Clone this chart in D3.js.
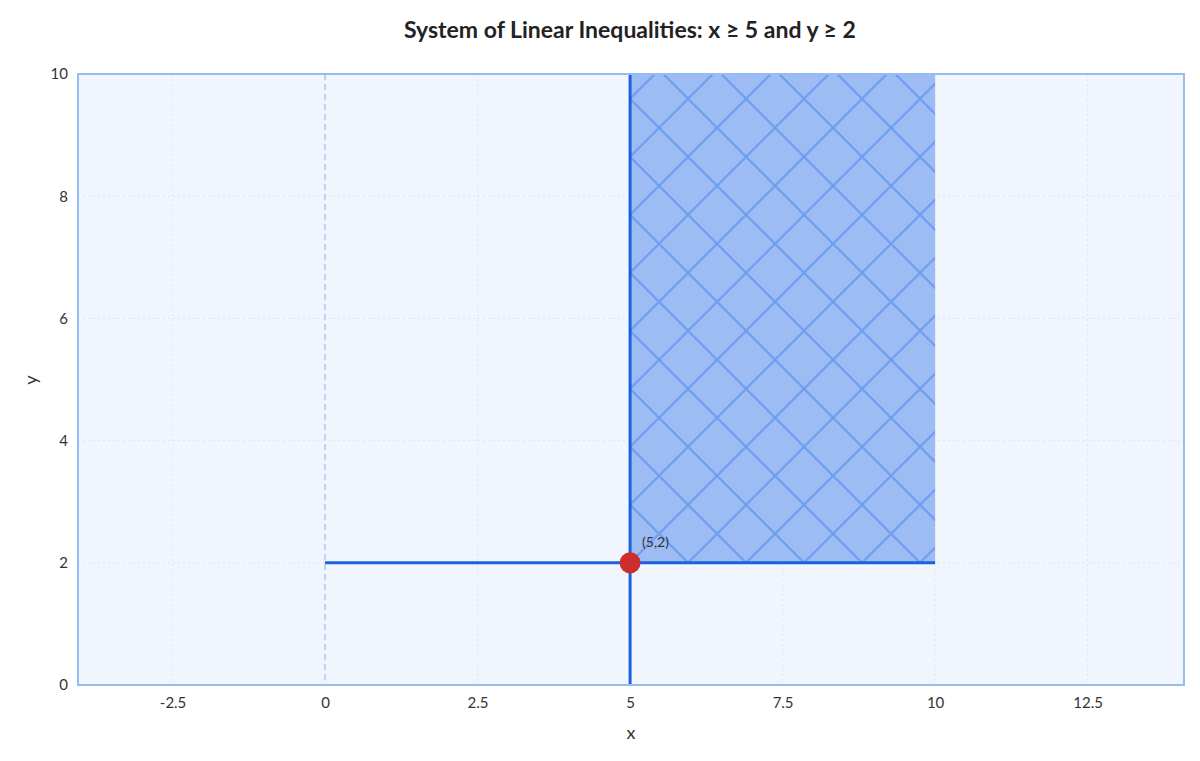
<!DOCTYPE html><html><head><meta charset="utf-8"><script src="https://cdn.jsdelivr.net/npm/d3@7"></script>
<style>body{margin:0;background:#fff;font-family:Lato,"Open Sans",sans-serif}</style></head><body><svg id="c" width="1200" height="761"></svg>
<script>
const xTicks=[-2.5,0,2.5,5,7.5,10,12.5];
const yTicks=[0,2,4,6,8,10];
const xDomain=[-4.05,14.08];
const yDomain=[0,10];
const boundaryX=[{x:5,y:0},{x:5,y:10}];
const boundaryY=[{x:0,y:2},{x:10,y:2}];
const region=[{x:5,y:2},{x:10,y:2},{x:10,y:10},{x:5,y:10}];
const vertex={x:5,y:2,label:"(5,2)"};
const svg=d3.select("#c");
const m={l:78,r:1184,t:74,b:685};
const x=d3.scaleLinear().domain(xDomain).range([m.l,m.r]);
const y=d3.scaleLinear().domain(yDomain).range([m.b,m.t]);
const defs=svg.append("defs");
const p=defs.append("pattern").attr("id","h").attr("patternUnits","userSpaceOnUse").attr("width",58).attr("height",58).attr("x",x(5)).attr("y",y(2));
p.append("rect").attr("width",58).attr("height",58).attr("fill","#9dbcf4");
p.append("path").attr("d","M0,0L58,58M58,0L0,58M-29,29L29,-29M29,87L87,29M-29,29L29,87M29,-29L87,29").attr("stroke","#6a9cf0").attr("stroke-width",2);
svg.append("rect").attr("x",m.l).attr("y",m.t).attr("width",m.r-m.l).attr("height",m.b-m.t).attr("fill","#f1f6fe");
const g=svg.append("g");
xTicks.forEach(t=>g.append("line").attr("x1",x(t)).attr("x2",x(t)).attr("y1",m.t).attr("y2",m.b).attr("stroke","#dde5f0").attr("stroke-dasharray","2,3"));
yTicks.forEach(t=>g.append("line").attr("x1",m.l).attr("x2",m.r).attr("y1",y(t)).attr("y2",y(t)).attr("stroke","#dde5f0").attr("stroke-dasharray","2,3"));
g.append("line").attr("x1",x(0)).attr("x2",x(0)).attr("y1",m.t).attr("y2",m.b).attr("stroke","#b9d3fa").attr("stroke-width",2).attr("stroke-dasharray","6,4");
const ln=d3.line().x(d=>x(d.x)).y(d=>y(d.y));
svg.append("path").attr("d",ln(region)+"Z").attr("fill","url(#h)");
svg.append("path").attr("d",ln(boundaryX)).attr("stroke","#1a62dd").attr("stroke-width",3).attr("fill","none");
svg.append("path").attr("d",ln(boundaryY)).attr("stroke","#1a62dd").attr("stroke-width",3).attr("fill","none");
svg.append("circle").attr("cx",x(vertex.x)).attr("cy",y(vertex.y)).attr("r",10.5).attr("fill","#cc2d2d");
svg.append("text").attr("x",x(vertex.x)+12).attr("y",y(vertex.y)-16).attr("font-size",14).attr("fill","#333").text(vertex.label);
svg.append("rect").attr("x",m.l).attr("y",m.t).attr("width",m.r-m.l).attr("height",m.b-m.t).attr("fill","none").attr("stroke","#97bcf2").attr("stroke-width",2);
const xa=svg.append("g").attr("transform",`translate(0,${m.b})`).call(d3.axisBottom(x).tickValues(xTicks).tickSize(0).tickPadding(12).tickFormat(d=>d));
const ya=svg.append("g").attr("transform",`translate(${m.l},0)`).call(d3.axisLeft(y).tickValues(yTicks).tickSize(0).tickPadding(10));
[xa,ya].forEach(a=>{a.select(".domain").remove();a.selectAll("text").attr("font-size",15).attr("fill","#333").attr("font-family","Lato, sans-serif");});
svg.append("text").attr("x",(m.l+m.r)/2).attr("y",739).attr("text-anchor","middle").attr("font-size",18).attr("fill","#333").text("x");
svg.append("text").attr("transform","translate(37,380) rotate(-90)").attr("text-anchor","middle").attr("font-size",18).attr("fill","#333").text("y");
svg.append("text").attr("x",630).attr("y",38).attr("text-anchor","middle").attr("font-size",23).attr("font-weight","bold").attr("fill","#222").text("System of Linear Inequalities: x ≥ 5 and y ≥ 2");
</script></body></html>
